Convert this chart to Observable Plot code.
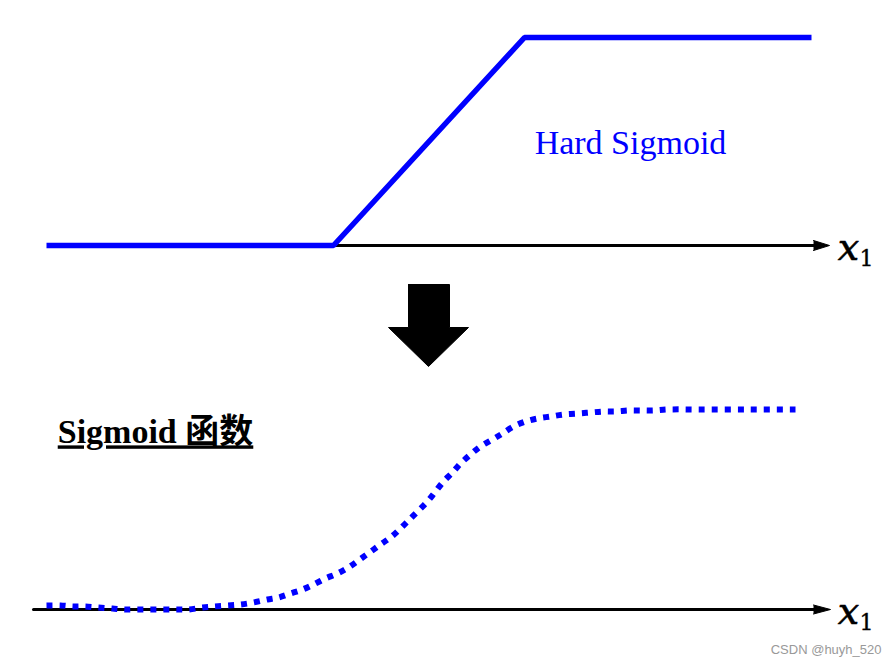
<!DOCTYPE html>
<html>
<head>
<meta charset="utf-8">
<script src="https://cdn.jsdelivr.net/npm/d3@7"></script>
<script src="https://cdn.jsdelivr.net/npm/@observablehq/plot@0.6"></script>
<style>
  html, body { margin: 0; padding: 0; background: #fff; }
  #chart svg { display: block; }
</style>
</head>
<body>
<div id="chart"></div>
<script>
// ---- data (picture units: x to the right, y downward) ----
// Hard sigmoid (top panel)
const hardX = [46, 333, 524, 811];
const hardY = [245, 245, 37, 37];
// Top axis
const topAxisX = [333, 816];
const topAxisY = [245, 245];
const topHeadX = [813, 829, 813];
const topHeadY = [240, 245, 250];
// Smooth sigmoid (bottom panel)
const sigX = [46, 60, 73, 85, 98, 112, 123, 137, 150, 163, 175, 188, 202, 213, 227, 240, 253, 267, 278, 290, 302, 313, 325, 337, 348, 358, 369, 380, 390, 400, 409, 418, 427, 435, 443, 452, 460, 470, 480, 492, 502, 513, 525, 537, 550, 563, 577, 590, 603, 615, 628, 640, 653, 667, 700, 750, 795];
const sigY = [605, 605, 606, 606, 607, 608, 609, 609, 609, 609, 609, 609, 607, 606, 605, 604, 602, 599, 597, 593, 589, 584, 578, 573, 567, 560, 552, 544, 537, 528, 519, 510, 501, 491, 481, 472, 463, 454, 446, 439, 433, 426, 421, 418, 416, 414, 413, 412, 411, 411, 410, 410, 410, 409, 409, 409, 409];
// Bottom axis
const botAxisX = [33, 816];
const botAxisY = [609, 609];
const botHeadX = [813, 830, 813];
const botHeadY = [604.5, 609, 613.5];
// Big down arrow between panels
const downX = [408, 449, 449, 468, 428, 388, 408, 408];
const downY = [284, 284, 327, 327, 366, 327, 327, 284];
// Labels
const labels = [
  {text: "Hard Sigmoid", x: 630, y: 143},
  {text: "Sigmoid 函数", x: 155, y: 432}
];
const axisLabels = [{x: 848, y: 247}, {x: 848, y: 611}];
const subLabels = [{x: 866, y: 258}, {x: 866, y: 622}];
const watermark = [{text: "CSDN @huyh_520", x: 881, y: 649}];

const pts = (xs, ys) => xs.map((x, i) => ({x, y: ys[i]}));

const plot = Plot.plot({
  width: 896,
  height: 666,
  margin: 0,
  x: {domain: [0, 896], range: [0, 896], axis: null},
  y: {domain: [0, 666], range: [0, 666], axis: null},
  marks: [
    // top axis
    Plot.line(pts(topAxisX, topAxisY), {x: "x", y: "y", stroke: "black", strokeWidth: 3}),
    Plot.line(pts(topHeadX, topHeadY), {x: "x", y: "y", fill: "black", stroke: "black", strokeWidth: 1}),
    // hard sigmoid
    Plot.line(pts(hardX, hardY), {x: "x", y: "y", stroke: "#0000ff", strokeWidth: 5.5, strokeLinejoin: "miter", strokeLinecap: "butt"}),
    // down arrow
    Plot.line(pts(downX, downY), {x: "x", y: "y", fill: "black", stroke: "black", strokeWidth: 1}),
    // bottom axis
    Plot.line(pts(botAxisX, botAxisY), {x: "x", y: "y", stroke: "black", strokeWidth: 3}),
    Plot.line(pts(botHeadX, botHeadY), {x: "x", y: "y", fill: "black", stroke: "black", strokeWidth: 1}),
    // smooth sigmoid (dotted)
    Plot.line(pts(sigX, sigY), {x: "x", y: "y", curve: "catmull-rom", stroke: "#0000ff", strokeWidth: 6, strokeDasharray: "6,7", strokeLinecap: "butt"}),
    // labels
    Plot.text([labels[0]], {x: "x", y: "y", text: "text", fill: "#0000ff", fontSize: 34, fontFamily: "Liberation Serif, serif", className: "lbl-hard"}),
    Plot.text([labels[1]], {x: "x", y: "y", text: "text", fill: "black", fontSize: 34, fontWeight: "bold", fontFamily: "Liberation Serif, 'Noto Sans CJK SC', serif", className: "lbl-sig"}),
    Plot.text(axisLabels, {x: "x", y: "y", text: () => "x", fill: "black", stroke: "black", strokeWidth: 0.6, fontSize: 38, fontStyle: "italic", fontFamily: "DejaVu Serif, serif"}),
    Plot.text(subLabels, {x: "x", y: "y", text: () => "1", fill: "black", stroke: "black", strokeWidth: 0.4, fontSize: 22, fontFamily: "DejaVu Serif, serif"}),
    Plot.text(watermark, {x: "x", y: "y", text: "text", fill: "#999", fontSize: 13, textAnchor: "end", fontFamily: "Liberation Sans, Arial, sans-serif"})
  ]
});
document.getElementById("chart").appendChild(plot);
d3.select(plot).selectAll(".lbl-sig text").style("text-decoration", "underline");
</script>
</body>
</html>
